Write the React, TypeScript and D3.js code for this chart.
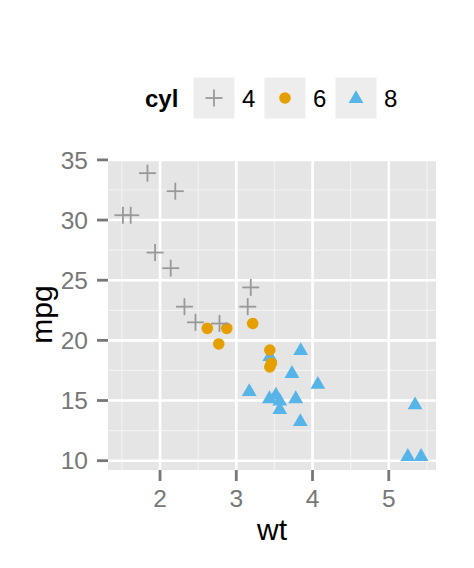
import React from "react";
import * as d3 from "d3";

const wt = [2.62, 2.875, 2.32, 3.215, 3.44, 3.46, 3.57, 3.19, 3.15, 3.44, 3.44, 4.07, 3.73, 3.78, 5.25, 5.424, 5.345, 2.2, 1.615, 1.835, 2.465, 3.52, 3.435, 3.84, 3.845, 1.935, 2.14, 1.513, 3.17, 2.77, 3.57, 2.78];
const mpg = [21.0, 21.0, 22.8, 21.4, 18.7, 18.1, 14.3, 24.4, 22.8, 19.2, 17.8, 16.4, 17.3, 15.2, 10.4, 10.4, 14.7, 32.4, 30.4, 33.9, 21.5, 15.5, 15.2, 13.3, 19.2, 27.3, 26.0, 30.4, 15.8, 19.7, 15.0, 21.4];
const cyl = [6, 6, 4, 6, 8, 6, 8, 4, 4, 6, 6, 8, 8, 8, 8, 8, 8, 4, 4, 4, 4, 8, 8, 8, 8, 4, 4, 4, 8, 6, 8, 4];
const cylLevels = [4, 6, 8];
const cylColors = ["#999999", "#E69F00", "#56B4E9"];
const xTicks = [2, 3, 4, 5];
const yTicks = [10, 15, 20, 25, 30, 35];
const xMinor = [1.5, 2.5, 3.5, 4.5, 5.5];
const yMinor = [12.5, 17.5, 22.5, 27.5, 32.5];

const W = 474, H = 568;
const panel = { left: 108, right: 436, top: 159, bottom: 470 };
const FONT = "'Liberation Sans', Arial, Helvetica, sans-serif";

function Marker({ level, x, y }: { level: number; x: number; y: number }) {
  const color = d3.scaleOrdinal<number, string>().domain(cylLevels).range(cylColors)(level);
  if (level === 4) {
    const a = 8.5;
    return (
      <g stroke={color} strokeWidth={1.8}>
        <line x1={x - a} x2={x + a} y1={y} y2={y} />
        <line x1={x} x2={x} y1={y - a} y2={y + a} />
      </g>
    );
  }
  if (level === 6) {
    return <circle cx={x} cy={y} r={5.8} fill={color} />;
  }
  const path = d3.symbol(d3.symbolTriangle, 95)() as string;
  return <path d={path} transform={`translate(${x},${y + 0.8})`} fill={color} />;
}

export default function App() {
  const xExt = d3.extent(wt) as [number, number];
  const yExt = d3.extent(mpg) as [number, number];
  const xPad = (xExt[1] - xExt[0]) * 0.05;
  const yPad = (yExt[1] - yExt[0]) * 0.05;
  const x = d3.scaleLinear().domain([xExt[0] - xPad, xExt[1] + xPad]).range([panel.left, panel.right]);
  const y = d3.scaleLinear().domain([yExt[0] - yPad, yExt[1] + yPad]).range([panel.bottom, panel.top]);
  const axisGray = "#777777";

  const keyX = [193, 264, 335];
  const keySize = 42;
  const keyTop = 77;

  return (
    <svg width={W} height={H} style={{ position: "absolute", left: 0, top: 0, background: "#fff" }} fontFamily={FONT}>
      {/* legend */}
      <text x={145} y={107} fontSize={24} fontWeight="bold" fill="#000">cyl</text>
      {cylLevels.map((lv, i) => (
        <g key={lv}>
          <rect x={keyX[i]} y={keyTop} width={keySize} height={keySize} fill="#ededed" stroke="#fff" strokeWidth={1} />
          <Marker level={lv} x={keyX[i] + keySize / 2} y={keyTop + keySize / 2} />
          <text x={keyX[i] + keySize + 7} y={107} fontSize={24} fill="#000">{lv}</text>
        </g>
      ))}

      {/* panel */}
      <rect x={panel.left} y={panel.top} width={panel.right - panel.left} height={panel.bottom - panel.top} fill="#e5e5e5" />
      {xMinor.map((v) => (
        <line key={"xm" + v} x1={x(v)} x2={x(v)} y1={panel.top} y2={panel.bottom} stroke="#f2f2f2" strokeWidth={1.2} />
      ))}
      {yMinor.map((v) => (
        <line key={"ym" + v} y1={y(v)} y2={y(v)} x1={panel.left} x2={panel.right} stroke="#f2f2f2" strokeWidth={1.2} />
      ))}
      {xTicks.map((v) => (
        <line key={"xM" + v} x1={x(v)} x2={x(v)} y1={panel.top} y2={panel.bottom} stroke="#fff" strokeWidth={2.6} />
      ))}
      {yTicks.map((v) => (
        <line key={"yM" + v} y1={y(v)} y2={y(v)} x1={panel.left} x2={panel.right} stroke="#fff" strokeWidth={2.6} />
      ))}

      {/* points */}
      {wt.map((w, i) => (
        <Marker key={i} level={cyl[i]} x={x(w)} y={y(mpg[i])} />
      ))}

      {/* y axis */}
      {yTicks.map((v) => (
        <g key={"yt" + v}>
          <line x1={panel.left - 11} x2={panel.left} y1={y(v)} y2={y(v)} stroke={axisGray} strokeWidth={2.8} />
          <text x={88} y={y(v)} dy="0.36em" textAnchor="end" fontSize={24.5} fill={axisGray}>{v}</text>
        </g>
      ))}
      {/* x axis */}
      {xTicks.map((v) => (
        <g key={"xt" + v}>
          <line x1={x(v)} x2={x(v)} y1={panel.bottom} y2={panel.bottom + 11} stroke={axisGray} strokeWidth={2.8} />
          <text x={x(v)} y={507} textAnchor="middle" fontSize={24.5} fill={axisGray}>{v}</text>
        </g>
      ))}

      <text x={(panel.left + panel.right) / 2} y={540} textAnchor="middle" fontSize={30} fill="#000">wt</text>
      <text transform={`translate(52,${(panel.top + panel.bottom) / 2}) rotate(-90)`} textAnchor="middle" fontSize={30} fill="#000">mpg</text>
    </svg>
  );
}
